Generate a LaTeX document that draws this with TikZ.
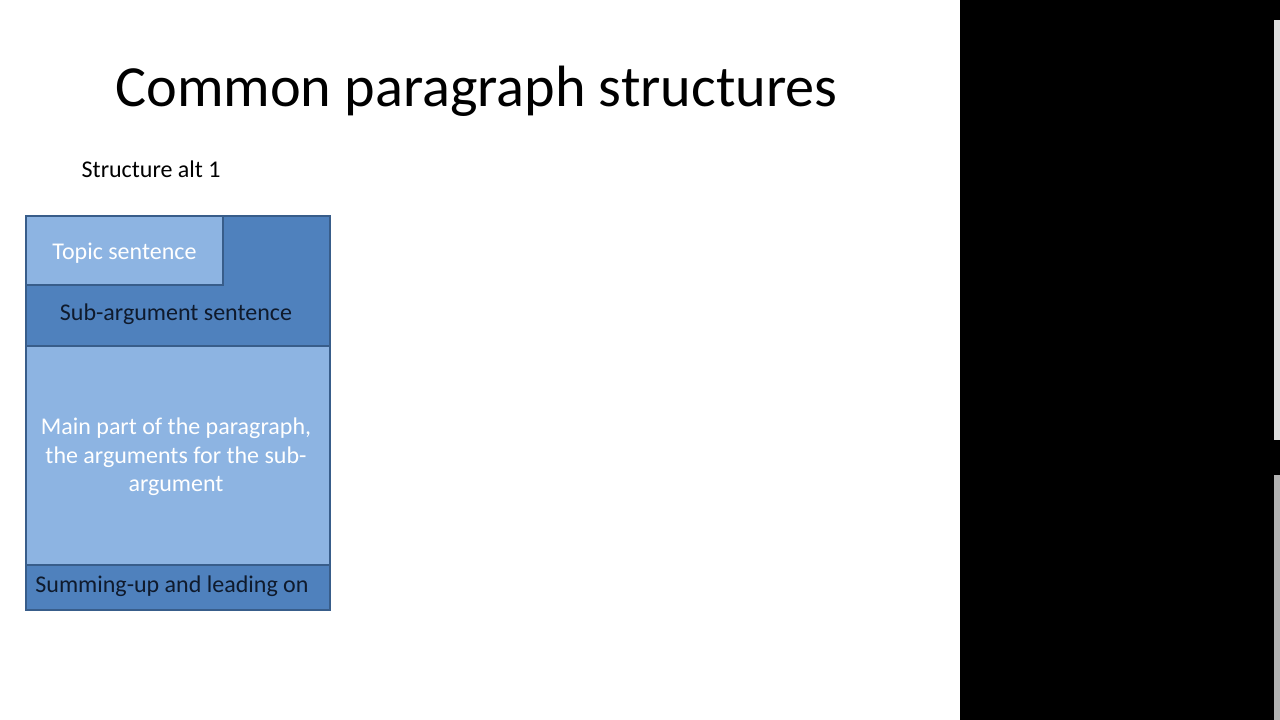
\documentclass[tikz,border=0pt]{standalone}
\usepackage{fontspec}
\setmainfont{Carlito}
\definecolor{bandblue}{HTML}{4F81BD}
\definecolor{paleblue}{HTML}{8DB4E2}
\definecolor{edgeblue}{HTML}{385D8A}
\definecolor{inkdark}{HTML}{0F1A2C}
\tikzset{
  band/.style={draw=edgeblue, fill=bandblue, line width=1pt},
  pale/.style={draw=edgeblue, fill=paleblue, line width=1pt},
  paletext/.style={text=white, align=center, font=\fontsize{18}{21.5}\selectfont},
  bandtext/.style={text=inkdark, align=center, font=\fontsize{18}{21.5}\selectfont}
}
\begin{document}
\begin{tikzpicture}[x=0.75pt,y=-0.75pt]
  \useasboundingbox (0,0) rectangle (1280,720);
  \fill[white] (0,0) rectangle (960,720);
  \fill[black] (960,0) rectangle (1280,720);
  \fill[gray!25] (1274,20) rectangle (1280,440);
  \fill[gray!60] (1274,475) rectangle (1280,720);
  % title
  \node[font=\fontsize{43.7}{50}\selectfont] (title) at (476.5,91.5) {Common paragraph structures};
  \node[font=\fontsize{18}{21.5}\selectfont, anchor=west] (alt) at (77,169) {Structure alt 1};
  % paragraph blocks
  \draw[band] (26,216) rectangle (330,610);
  \draw[pale] (26,346) rectangle (330,565);
  \draw[pale] (26,216) rectangle (223,285);
  \draw[edgeblue, line width=1pt] (26,285) -- (223,285);
  \node[paletext] (topic) at (124.5,253) {Topic sentence};
  \node[bandtext] (sub) at (176,314) {Sub-argument sentence};
  \node[paletext] (main) at (176,457) {Main part of the paragraph,\\the arguments for the sub-\\argument};
  \node[bandtext] (sum) at (172,586) {Summing-up and leading on};
\end{tikzpicture}
\end{document}
